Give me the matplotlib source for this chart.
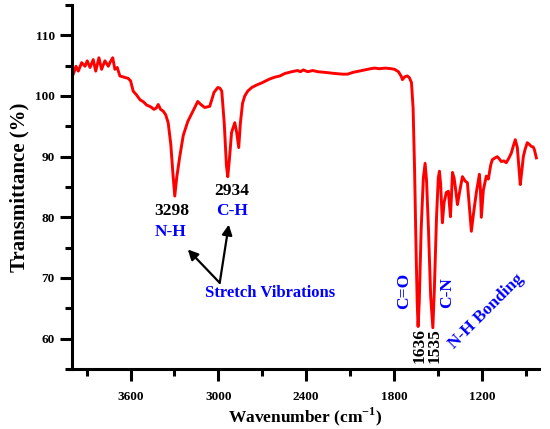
import matplotlib
matplotlib.use("Agg")
import matplotlib.pyplot as plt
from matplotlib.ticker import MultipleLocator

# FTIR spectrum
wavenumber = [3995, 3985, 3973, 3957, 3934, 3911, 3896, 3877, 3855, 3838,
              3816, 3798, 3775, 3752, 3741, 3722, 3707, 3691, 3673, 3645,
              3616, 3600, 3582, 3560, 3536, 3510, 3490, 3470, 3456, 3440,
              3425, 3411, 3395, 3377, 3360, 3343, 3325, 3310, 3298, 3285,
              3264, 3240, 3209, 3180, 3141, 3120, 3093, 3075, 3059, 3030,
              3004, 2990, 2977, 2960, 2945, 2936, 2925, 2910, 2888, 2875,
              2861, 2850, 2835, 2820, 2800, 2772, 2740, 2700, 2684, 2650,
              2616, 2580, 2547, 2500, 2459, 2440, 2420, 2390, 2356, 2320,
              2275, 2200, 2150, 2118, 2080, 2040, 2000, 1960, 1934, 1900,
              1860, 1820, 1797, 1770, 1750, 1743, 1725, 1709, 1695, 1681,
              1670, 1660, 1650, 1642, 1636, 1628, 1615, 1600, 1588, 1578,
              1565, 1550, 1535, 1525, 1510, 1498, 1490, 1482, 1470, 1458,
              1443, 1429, 1415, 1408, 1401, 1390, 1381, 1367, 1350, 1333,
              1315, 1299, 1288, 1272, 1258, 1238, 1225, 1217, 1210, 1204,
              1190, 1170, 1156, 1140, 1129, 1110, 1095, 1080, 1068, 1050,
              1034, 1015, 999, 985, 972, 958, 948, 938, 928, 917,
              905, 890, 875, 863, 850, 842, 828]
transmittance = [103.4, 104.0, 104.9, 104.1, 105.5, 104.9, 105.8, 104.7, 106.0, 104.1,
                 106.3, 104.4, 105.8, 104.9, 105.5, 106.3, 104.4, 104.7, 103.3, 103.1,
                 102.9, 102.5, 100.8, 100.2, 99.4, 99.0, 98.5, 98.3, 98.1, 97.8,
                 98.0, 98.6, 97.8, 97.5, 96.9, 95.6, 92.0, 87.0, 83.5, 86.5,
                 90.0, 93.5, 95.8, 97.2, 99.1, 98.6, 98.1, 98.2, 98.3, 100.6,
                 101.4, 101.3, 100.8, 95.5, 88.5, 86.7, 89.5, 94.0, 95.6, 94.0,
                 91.5, 95.5, 98.8, 100.0, 100.8, 101.4, 101.8, 102.2, 102.4, 102.8,
                 103.1, 103.3, 103.7, 104.0, 104.2, 104.0, 104.3, 104.0, 104.2, 104.0,
                 103.9, 103.7, 103.6, 103.6, 103.9, 104.1, 104.3, 104.5, 104.6, 104.5,
                 104.6, 104.5, 104.4, 104.0, 103.2, 102.7, 103.2, 103.3, 103.0, 102.2,
                 98.0, 88.0, 75.0, 66.0, 62.0, 66.0, 78.0, 86.5, 88.9, 86.0,
                 78.0, 67.0, 61.8, 68.0, 80.0, 86.5, 87.6, 85.5, 79.1, 82.5,
                 84.1, 84.3, 80.1, 83.5, 87.4, 86.5, 84.9, 82.1, 84.5, 86.7,
                 86.0, 85.7, 82.5, 77.7, 80.5, 84.1, 86.0, 87.1, 84.5, 80.0,
                 84.5, 86.8, 86.3, 88.6, 89.5, 89.8, 90.0, 89.6, 89.2, 89.3,
                 89.0, 89.8, 90.6, 91.8, 92.8, 91.5, 88.5, 85.4, 87.5, 90.0,
                 91.2, 92.3, 92.0, 91.7, 91.6, 91.2, 89.8]

# peak labels: (text, x, y, colour, rotation)
peak_labels = [("3298", 3318, 81.0, "black", 0),
               ("N-H", 3325, 77.6, "blue", 0),
               ("2934", 2909, 84.4, "black", 0),
               ("C-H", 2909, 81.0, "blue", 0),
               ("C=O", 1729, 67.9, "blue", 90),
               ("C-N", 1436, 67.6, "blue", 90),
               ("1636", 1627, 58.8, "black", 90),
               ("1535", 1524, 58.8, "black", 90),
               ("N-H Bonding", 1170, 64.5, "blue", 45)]

plt.rcParams['font.family'] = ['Liberation Serif', 'DejaVu Serif']
plt.rcParams['font.weight'] = 'bold'
plt.rcParams['mathtext.fontset'] = 'custom'
plt.rcParams['mathtext.rm'] = 'Liberation Serif:bold'
plt.rcParams['mathtext.bf'] = 'Liberation Serif:bold'

fig = plt.figure(figsize=(5.5, 4.29), dpi=100)
axes = fig.add_axes([72 / 550, 60 / 429, 467 / 550, 364 / 429])

axes.plot(wavenumber, transmittance, color='#ff0000', lw=2.1)

for text, x, y, color, rot in peak_labels:
    axes.text(x, y, text, color=color, rotation=rot, fontsize=12.5,
              fontweight='bold', ha='center', va='center')

axes.text(2650, 67.6, "Stretch Vibrations", color='blue', fontsize=12,
          fontweight='bold', ha='center', va='center')
for head in [(3209, 74.7), (2929, 78.8)]:
    axes.annotate("", xy=head, xytext=(2991, 69.2),
                  arrowprops=dict(arrowstyle='-|>', color='black', lw=1.6,
                                  mutation_scale=15, shrinkA=0, shrinkB=0))

axes.set_xlim(4000, 810)
axes.set_ylim(55, 115)
axes.xaxis.set_major_locator(MultipleLocator(600))
axes.xaxis.set_minor_locator(MultipleLocator(300))
axes.yaxis.set_major_locator(MultipleLocator(10))
axes.yaxis.set_minor_locator(MultipleLocator(5))

for side in ['top', 'right']:
    axes.spines[side].set_visible(False)
for side in ['left', 'bottom']:
    axes.spines[side].set_linewidth(2.2)

axes.tick_params(which='major', length=8.5, width=2.2, labelsize=9.5)
axes.tick_params(which='minor', length=5, width=2.2)
axes.tick_params(axis='x', which='major', pad=7)
axes.tick_params(axis='y', which='major', pad=4)

axes.set_xlabel("Wavenumber (cm$^{-1}$)", fontsize=12.5, fontweight='bold',
                labelpad=2)
axes.set_ylabel("Transmittance (%)", fontsize=15, fontweight='bold')

plt.savefig("out.png", dpi=100)
